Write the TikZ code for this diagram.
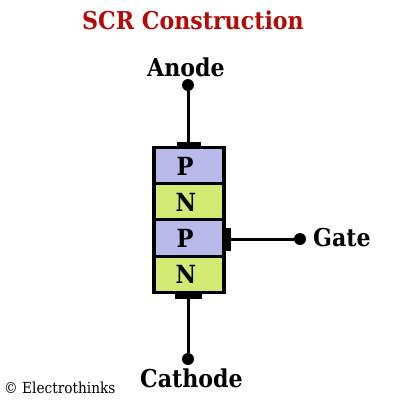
\documentclass[tikz,border=0pt]{standalone}
\usepackage{fontspec}
\setmainfont{DejaVu Serif}[FakeStretch=0.9]
\definecolor{pblue}{HTML}{B8BBEA}
\definecolor{ngreen}{HTML}{D3EA72}
\definecolor{titlered}{HTML}{B50A0A}
\tikzset{
 layer/.style={draw=black,line width=3.4pt,minimum width=70pt,anchor=north west,inner sep=0pt,outer sep=0pt},
 tab/.style={fill=black,draw=none,inner sep=0pt,outer sep=0pt},
 lead/.style={line width=3pt,black},
 term/.style={circle,fill=black,minimum size=12pt,inner sep=0pt,outer sep=0pt},
 lab/.style={font=\bfseries\fontsize{24.6}{26}\selectfont,inner sep=0pt,anchor=base},
 lett/.style={font=\bfseries\fontsize{25}{27}\selectfont,inner sep=0pt,anchor=base}
}
\begin{document}
\begin{tikzpicture}[x=1pt,y=-1pt]
\useasboundingbox (0,0) rectangle (400,400);
\fill[white] (0,0) rectangle (400,400);
\node[lab,text=titlered] (title) at (193,29) {SCR Construction};
\node[lab] (anodelab) at (186,76) {Anode};
\node[lab] (cathlab) at (191.5,387) {Cathode};
\node[lab,anchor=base west] (gatelab) at (313,246) {Gate};
\node[inner sep=0pt,anchor=base west,font=\fontsize{15.2}{17}\selectfont] (copy) at (4,393) {© Electrothinks};
\node[term] (a) at (188,85) {};
\node[term] (k) at (188,359) {};
\node[term] (g) at (300,239) {};
\node[tab,minimum width=24pt,minimum height=6pt] (ta) at (188.5,144.5) {};
\node[tab,minimum width=27pt,minimum height=6pt] (tk) at (188,295.5) {};
\node[tab,minimum width=6pt,minimum height=23pt] (tg) at (227.5,239) {};
\draw[lead] (a) -- (a |- ta);
\draw[lead] (k) -- (k |- tk);
\draw[lead] (g) -- (tg);
\node[layer,fill=pblue,minimum height=36pt] (l1) at (154,147.5) {};
\node[layer,fill=ngreen,minimum height=36pt] (l2) at (154,183.5) {};
\node[layer,fill=pblue,minimum height=37pt] (l3) at (154,219.5) {};
\node[layer,fill=ngreen,minimum height=36pt] (l4) at (154,256.5) {};
\node[lett] (p1) at (185,175.5) {P};
\node[lett] (n1) at (186,211.5) {N};
\node[lett] (p2) at (185,247.5) {P};
\node[lett] (n2) at (186,283.5) {N};
\end{tikzpicture}
\end{document}
